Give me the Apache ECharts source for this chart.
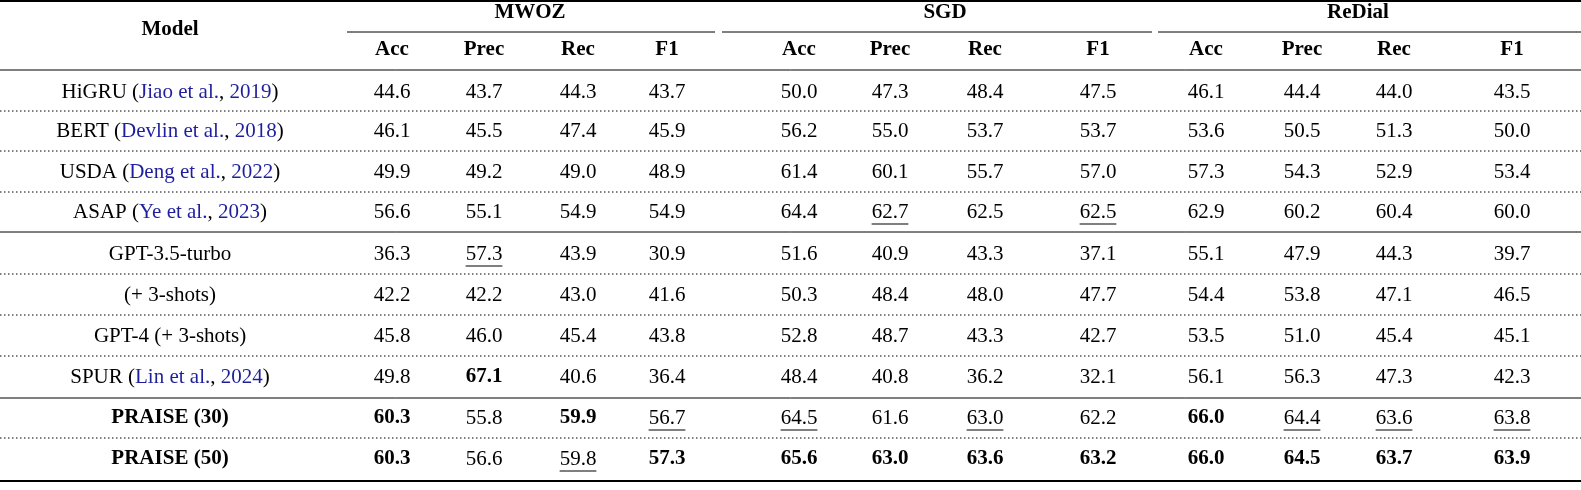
<!DOCTYPE html>
<html><head><meta charset="utf-8">
<script src="https://cdn.jsdelivr.net/npm/echarts@6/dist/echarts.min.js"></script>
<style>html,body{margin:0;padding:0;background:#fff}#c{width:1581px;height:490px}</style>
</head><body><div id="c"></div>
<script>
// table content
var groups = ['MWOZ', 'SGD', 'ReDial'];
var metrics = ['Acc', 'Prec', 'Rec', 'F1'];
var models = [
  'HiGRU ({c|Jiao et al.}, {c|2019})',
  'BERT ({c|Devlin et al.}, {c|2018})',
  'USDA ({c|Deng et al.}, {c|2022})',
  'ASAP ({c|Ye et al.}, {c|2023})',
  'GPT-3.5-turbo',
  '(+ 3-shots)',
  'GPT-4 (+ 3-shots)',
  'SPUR ({c|Lin et al.}, {c|2024})',
  '{b|PRAISE (30)}',
  '{b|PRAISE (50)}'
];
var values = [
  ['44.6','43.7','44.3','43.7','50.0','47.3','48.4','47.5','46.1','44.4','44.0','43.5'],
  ['46.1','45.5','47.4','45.9','56.2','55.0','53.7','53.7','53.6','50.5','51.3','50.0'],
  ['49.9','49.2','49.0','48.9','61.4','60.1','55.7','57.0','57.3','54.3','52.9','53.4'],
  ['56.6','55.1','54.9','54.9','64.4','62.7','62.5','62.5','62.9','60.2','60.4','60.0'],
  ['36.3','57.3','43.9','30.9','51.6','40.9','43.3','37.1','55.1','47.9','44.3','39.7'],
  ['42.2','42.2','43.0','41.6','50.3','48.4','48.0','47.7','54.4','53.8','47.1','46.5'],
  ['45.8','46.0','45.4','43.8','52.8','48.7','43.3','42.7','53.5','51.0','45.4','45.1'],
  ['49.8','67.1','40.6','36.4','48.4','40.8','36.2','32.1','56.1','56.3','47.3','42.3'],
  ['60.3','55.8','59.9','56.7','64.5','61.6','63.0','62.2','66.0','64.4','63.6','63.8'],
  ['60.3','56.6','59.8','57.3','65.6','63.0','63.6','63.2','66.0','64.5','63.7','63.9']
];
// n = normal, b = best (bold), u = second (underline)
var marks = [
  'nnnnnnnnnnnn',
  'nnnnnnnnnnnn',
  'nnnnnnnnnnnn',
  'nnnnnunununn'.replace(/./g, function(c, i){ return (i===5||i===7)?'u':'n'; }),
  'nunnnnnnnnnn',
  'nnnnnnnnnnnn',
  'nnnnnnnnnnnn',
  'nbnnnnnnnnnn',
  'bnbuunun buuu'.replace(' ', ''),
  'bnubbbbbbbbb'
];

// layout
var W = 1581, H = 490;
var modelX = 170;
var colX = [392, 484, 578, 667, 799, 890, 985, 1098, 1206, 1302, 1394, 1512];
var groupX = [530, 945, 1358];
var rowY = [92, 131, 172, 212, 254, 295, 336, 377, 418, 459];
var FONT = '"Liberation Serif", "DejaVu Serif", serif';
var FS = 21;
var BLUE = '#1f1f9e';

var ctx = document.createElement('canvas').getContext('2d');
function textW(t, bold) {
  ctx.font = (bold ? 'bold ' : '') + FS + 'px ' + FONT;
  return ctx.measureText(t).width;
}

// text is kept in side lists, looked up by dataIndex (so "50.0" keeps its zero)
var cells = [], cellText = [], cellMark = [];
values.forEach(function (row, r) {
  row.forEach(function (v, c) {
    cells.push([colX[c], rowY[r]]);
    cellText.push(v);
    cellMark.push(marks[r][c]);
  });
});
var richCells = [], richText = [];
models.forEach(function (m, r) { richCells.push([modelX, rowY[r]]); richText.push(m); });
richCells.push([modelX, 30]); richText.push('{b|Model}');
groups.forEach(function (g, i) { richCells.push([groupX[i], 13]); richText.push('{b|' + g + '}'); });
colX.forEach(function (x, i) { richCells.push([x, 50]); richText.push('{b|' + metrics[i % 4] + '}'); });

function cellRender(params, api) {
  var p = api.coord([api.value(0), api.value(1)]);
  var t = cellText[params.dataIndex], m = cellMark[params.dataIndex];
  var bold = m === 'b';
  var children = [{
    type: 'text',
    style: { text: t, x: p[0], y: p[1], align: 'center', verticalAlign: 'middle',
      fontFamily: FONT, fontSize: FS, fontWeight: bold ? 'bold' : 'normal', fill: '#000' }
  }];
  if (m === 'u') {
    var w = textW(t, false);
    children.push({ type: 'line', shape: { x1: p[0] - w / 2, y1: p[1] + 12, x2: p[0] + w / 2, y2: p[1] + 12 },
      style: { stroke: '#000', lineWidth: 1.2 } });
  }
  return { type: 'group', children: children };
}
function richRender(params, api) {
  var p = api.coord([api.value(0), api.value(1)]);
  return {
    type: 'text',
    style: { text: richText[params.dataIndex], x: p[0], y: p[1], align: 'center', verticalAlign: 'middle',
      fontFamily: FONT, fontSize: FS, fill: '#000',
      rich: { c: { fill: BLUE, fontFamily: FONT, fontSize: FS },
              b: { fontFamily: FONT, fontSize: FS, fontWeight: 'bold', fill: '#000' } } }
  };
}

function hline(y, x1, x2, lw, dash) {
  return { type: 'line', shape: { x1: x1, y1: y, x2: x2, y2: y },
    style: { stroke: '#000', lineWidth: lw, lineDash: dash || null } };
}
var rules = [hline(1, 0, W, 2), hline(32, 347, 715, 1), hline(32, 722, 1152, 1), hline(32, 1158, W, 1),
  hline(70, 0, W, 1), hline(232, 0, W, 1), hline(398, 0, W, 1), hline(481, 0, W, 2)];
[111, 151, 192, 274, 315, 356, 438].forEach(function (y) { rules.push(hline(y, 0, W, 1, [1.5, 2.5])); });

var chart = echarts.init(document.getElementById('c'), null, { renderer: 'canvas' });
chart.setOption({
  animation: false,
  grid: { left: 0, right: 0, top: 0, bottom: 0 },
  xAxis: { type: 'value', min: 0, max: W, show: false },
  yAxis: { type: 'value', min: 0, max: H, inverse: true, show: false },
  graphic: rules,
  series: [
    { type: 'custom', renderItem: cellRender, data: cells, encode: { x: 0, y: 1 } },
    { type: 'custom', renderItem: richRender, data: richCells, encode: { x: 0, y: 1 } }
  ]
});
</script></body></html>
